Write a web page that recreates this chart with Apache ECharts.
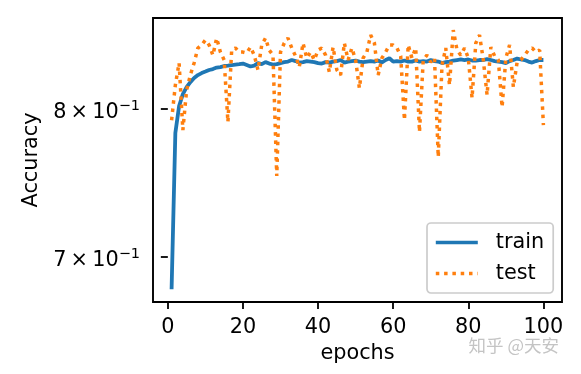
<!DOCTYPE html>
<html>
<head>
<meta charset="utf-8">
<script src="https://cdn.jsdelivr.net/npm/echarts@6/dist/echarts.min.js"></script>
<style>html,body{margin:0;padding:0;background:#fff}#c{width:581px;height:374px}</style>
</head>
<body>
<div id="c"></div>
<script>
const epochs = Array.from({length: 100}, (_, i) => i + 1);
const trainAcc = [
0.680,0.7829,0.8022,0.8109,0.8160,0.8197,0.8227,0.8249,0.8264,0.8275,
0.8287,0.8294,0.8305,0.8309,0.8317,0.8320,0.8324,0.8328,0.8331,0.8335,
0.8324,0.8313,0.8320,0.8339,0.8331,0.8346,0.8335,0.8328,0.8331,0.8339,
0.8346,0.8350,0.8362,0.8354,0.8343,0.8346,0.8354,0.8350,0.8346,0.8339,
0.8335,0.8346,0.8343,0.8350,0.8354,0.8362,0.8343,0.8350,0.8354,0.8358,
0.8350,0.8346,0.8350,0.8354,0.8350,0.8358,0.8343,0.8362,0.8375,0.8350,
0.8354,0.8350,0.8358,0.8350,0.8350,0.8358,0.8350,0.8354,0.8350,0.8362,
0.8354,0.8350,0.8339,0.8346,0.8350,0.8358,0.8362,0.8366,0.8362,0.8366,
0.8358,0.8358,0.8362,0.8362,0.8369,0.8362,0.8354,0.8350,0.8346,0.8339,
0.8354,0.8362,0.8373,0.8366,0.8362,0.8350,0.8343,0.8354,0.8362,0.8362
];
const testAcc = [
0.792,0.8175,0.834,0.785,0.8138,0.825,0.834,0.8453,0.8476,0.8514,
0.8476,0.8399,0.8529,0.8422,0.8362,0.7907,0.8437,0.8453,0.8422,0.8422,
0.8415,0.8460,0.8399,0.8287,0.8476,0.8529,0.8437,0.8399,0.7531,0.8422,
0.8491,0.8529,0.8453,0.8392,0.8309,0.8491,0.8377,0.8422,0.8362,0.8437,
0.8453,0.8399,0.8272,0.8460,0.8287,0.8249,0.8491,0.8362,0.8453,0.8362,
0.8153,0.8377,0.8422,0.8552,0.8491,0.8249,0.8377,0.8422,0.8476,0.8476,
0.8453,0.8392,0.7921,0.8476,0.8377,0.8453,0.7836,0.8362,0.8399,0.8346,
0.8377,0.7661,0.8324,0.8453,0.8175,0.8591,0.8437,0.8399,0.8453,0.8377,
0.8080,0.8491,0.8552,0.8362,0.8102,0.8460,0.8392,0.8362,0.8014,0.8377,
0.8476,0.8160,0.8346,0.8362,0.8399,0.8437,0.8453,0.8422,0.8437,0.7885
];
const xTicks = [0, 20, 40, 60, 80, 100];
const yTicks = [0.7, 0.8];
const yTickLabels = {0.7: '7', 0.8: '8'};

const FONT = 'DejaVu Sans';
const chart = echarts.init(document.getElementById('c'), null, {renderer: 'canvas'});
chart.setOption({
  animation: false,
  backgroundColor: '#ffffff',
  textStyle: {fontFamily: FONT},
  title: {
    text: '知乎 @天安', right: 17, bottom: 15,
    textStyle: {fontFamily: 'Noto Sans CJK SC', fontSize: 17.5, fontWeight: 'normal', color: '#c4c4c4'}
  },
  grid: {left: 153, right: 19, top: 18, bottom: 72, show: true, borderColor: '#000', borderWidth: 1.9, backgroundColor: 'transparent'},
  legend: {
    orient: 'vertical', left: 427, top: 223,
    data: ['train', 'test'],
    itemWidth: 42, itemHeight: 14, itemGap: 10,
    padding: [9, 9, 9, 7],
    backgroundColor: 'rgba(255,255,255,0.8)', borderColor: '#cccccc', borderWidth: 1.7, borderRadius: 4,
    itemStyle: {color: 'rgba(0,0,0,0)', borderWidth: 0, opacity: 0},
    lineStyle: {width: 3.6},
    textStyle: {fontFamily: FONT, fontSize: 20.8, color: '#000', padding: [0, 0, 0, 13]}
  },
  xAxis: {
    type: 'value', min: -3.95, max: 104.95,
    name: 'epochs', nameLocation: 'middle', nameGap: 41,
    nameTextStyle: {fontFamily: FONT, fontSize: 20.8, color: '#000'},
    axisLine: {show: false},
    axisTick: {show: true, length: 7, lineStyle: {color: '#000', width: 1.8}, customValues: xTicks},
    axisLabel: {show: true, customValues: xTicks, margin: 15, fontFamily: FONT, fontSize: 20.8, color: '#000', formatter: v => String(v)},
    splitLine: {show: false}
  },
  yAxis: {
    type: 'log', logBase: 10, min: 0.6722, max: 0.8685,
    name: 'Accuracy', nameLocation: 'middle', nameGap: 108, nameRotate: 90,
    nameTextStyle: {fontFamily: FONT, fontSize: 20.8, color: '#000'},
    axisLine: {show: false},
    axisTick: {show: true, length: 7, lineStyle: {color: '#000', width: 1.8}, customValues: yTicks},
    axisLabel: {
      show: true, customValues: yTicks, margin: 13, color: '#000', padding: [7, 0, 0, 0],
      formatter: v => '{b|' + yTickLabels[Math.round(v * 10) / 10] + '\u2009×\u200910}{s|−1}',
      rich: {
        b: {fontFamily: FONT, fontSize: 20.8, color: '#000', lineHeight: 28, verticalAlign: 'middle'},
        s: {fontFamily: FONT, fontSize: 14.5, color: '#000', lineHeight: 16, verticalAlign: 'top'}
      }
    },
    splitLine: {show: false}
  },
  series: [
    {
      name: 'train', type: 'line', symbol: 'none', showSymbol: false,
      data: epochs.map((e, i) => [e, trainAcc[i]]),
      itemStyle: {color: '#1f77b4'},
      lineStyle: {color: '#1f77b4', width: 3.8}
    },
    {
      name: 'test', type: 'line', symbol: 'none', showSymbol: false,
      data: epochs.map((e, i) => [e, testAcc[i]]),
      itemStyle: {color: '#ff7f0e'},
      lineStyle: {color: '#ff7f0e', width: 3.5, type: [3.5, 4.8], cap: 'butt'}
    }
  ]
});
</script>
</body>
</html>
